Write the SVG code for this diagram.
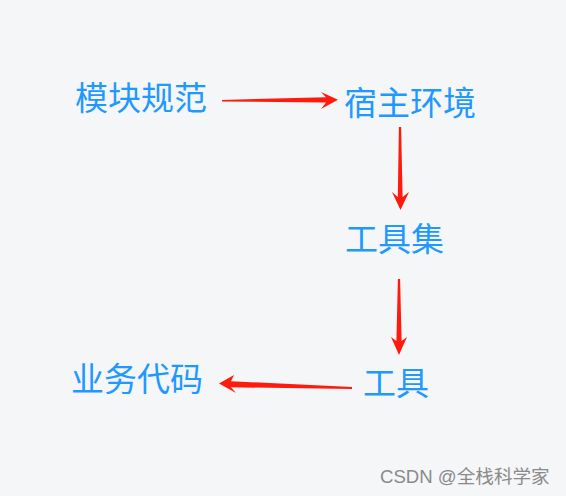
<svg xmlns="http://www.w3.org/2000/svg" width="566" height="496" viewBox="0 0 566 496">
<style>
.n{font-family:"Noto Sans CJK SC","Microsoft YaHei",sans-serif;font-size:33px;fill:#1f99ff}
.a{fill:#ff1a0e}
.w{font-family:"Liberation Sans","Noto Sans CJK SC",sans-serif;font-size:18.6px;fill:#8a8a8a}
</style>
<rect width="566" height="496" fill="#f5f6f8"/>
<g id="connectors">
<polygon class="a" points="222,99.9 326,97.3 321,92 338,99.8 321,109 326,102.4 222,101.6"/>
<polygon class="a" points="398.9,127 401.1,127 402.6,197 409,192 400.5,210 392,192 397.8,197"/>
<polygon class="a" points="397.9,279 400.1,279 401.6,341 407,337 399,355 391,337 396.4,341"/>
<polygon class="a" points="352,387.1 352,388.9 231,387.3 236,393 219,383.4 234,375 231,381.2"/>
</g>
<g id="n1"><text class="n" x="75" y="110">模块规范</text></g>
<g id="n2"><text class="n" x="344" y="115">宿主环境</text></g>
<g id="n3"><text class="n" x="345" y="251">工具集</text></g>
<g id="n4"><text class="n" x="363" y="395">工具</text></g>
<g id="n5"><text class="n" x="71" y="391">业务代码</text></g>
<text class="w" x="380" y="483">CSDN @全栈科学家</text>
</svg>
